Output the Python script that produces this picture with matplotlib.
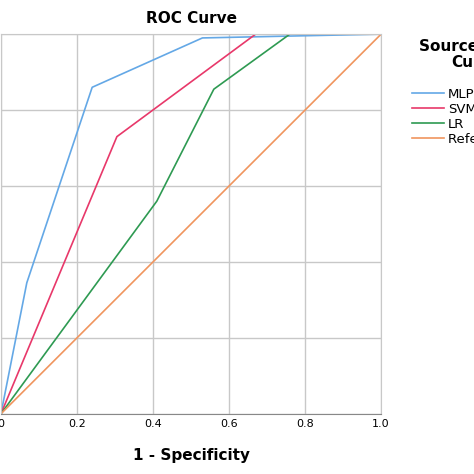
import matplotlib
matplotlib.use('Agg')
import matplotlib.pyplot as plt

mlp_x = [0, 0.068, 0.24, 0.53, 1.0]
mlp_y = [0, 0.345, 0.86, 0.99, 1.0]
svm_x = [0, 0.305, 0.67, 1.0]
svm_y = [0, 0.73, 1.0, 1.0]
lr_x = [0, 0.41, 0.56, 0.76, 1.0]
lr_y = [0, 0.56, 0.855, 1.0, 1.0]
ref_x = [0, 1]
ref_y = [0, 1]
ticks = [0, 0.2, 0.4, 0.6, 0.8, 1.0]
tick_labels = ['0', '0.2', '0.4', '0.6', '0.8', '1.0']

fig = plt.figure(figsize=(4.74, 4.74), dpi=100)
ax = fig.add_axes([0.002, 0.127, 0.802, 0.801])

ax.plot(mlp_x, mlp_y, color='#64a8e6', lw=1.2, label='MLP')
ax.plot(svm_x, svm_y, color='#e8386a', lw=1.2, label='SVM')
ax.plot(lr_x, lr_y, color='#2e9a52', lw=1.2, label='LR')
ax.plot(ref_x, ref_y, color='#f0955e', lw=1.2, label='Reference Line')

ax.set_xlim(0, 1)
ax.set_ylim(0, 1)
ax.set_xticks(ticks)
ax.set_xticklabels(tick_labels, fontsize=8)
ax.set_yticks(ticks)
ax.set_yticklabels(tick_labels, fontsize=8)
ax.tick_params(length=0)
ax.grid(True, color='#c8c8c8', lw=1)
for s in ax.spines.values():
    s.set_color('#c8c8c8')
ax.spines['bottom'].set_color('#888888')

ax.set_title('ROC Curve', fontsize=11, fontweight='bold', pad=8)
ax.set_xlabel('1 - Specificity', fontsize=11, fontweight='bold', labelpad=14)

fig.text(1.005, 0.885, 'Source of the\nCurve', fontsize=11, fontweight='bold',
         ha='center', va='center', linespacing=1.1)
fig.legend(loc='upper left', bbox_to_anchor=(0.845, 0.84), frameon=False,
           fontsize=9.5, handlelength=2.4, handletextpad=0.3, labelspacing=0.15)

fig.savefig('out.png', dpi=100)
